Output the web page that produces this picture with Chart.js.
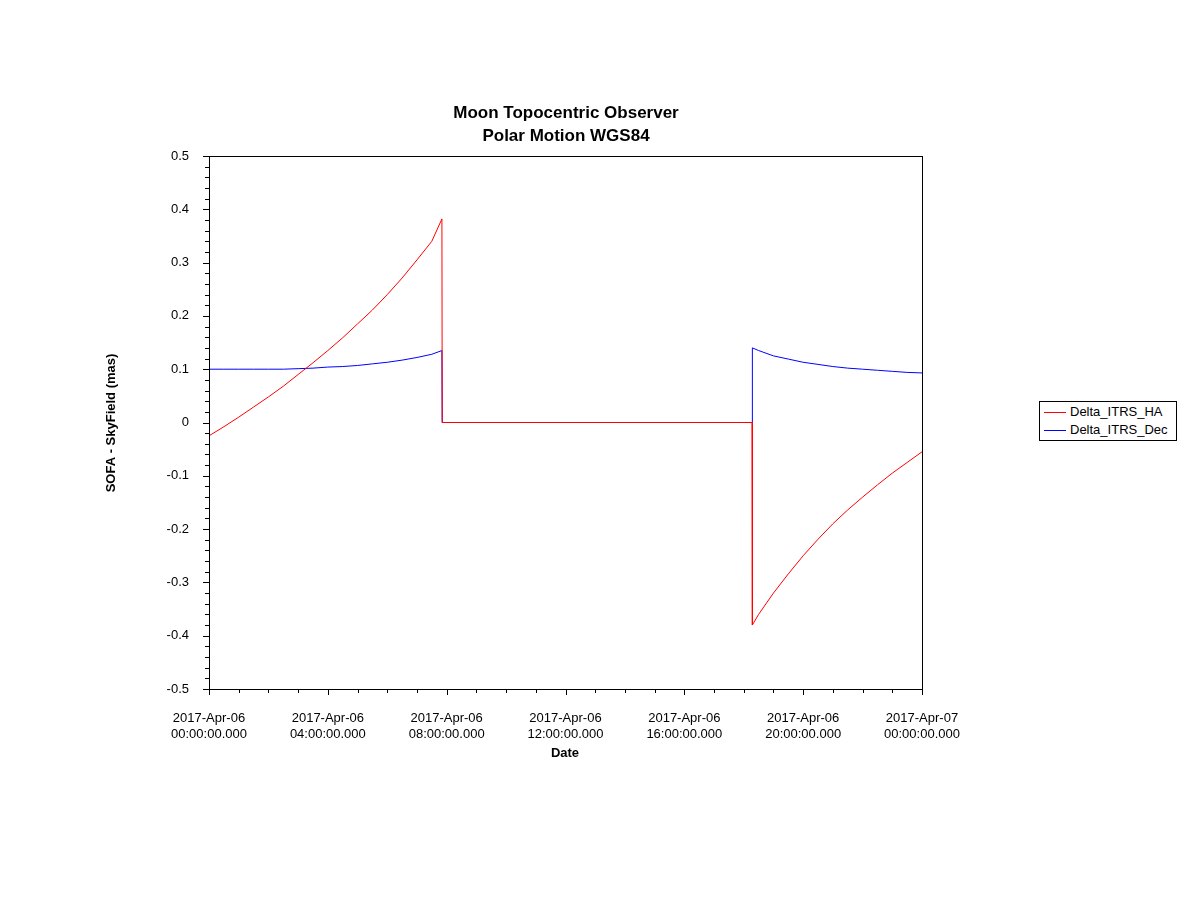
<!DOCTYPE html>
<html><head><meta charset="utf-8">
<script src="https://cdn.jsdelivr.net/npm/chart.js@4"></script>
<style>html,body{margin:0;padding:0;background:#fff}#w{position:relative;width:1198px;height:898px}
#lg{position:absolute;left:1039px;top:401px;width:138px;height:40px;border:1px solid #000;box-sizing:border-box;font:13px "Liberation Sans",Arial,sans-serif;background:#fff}
#lg div{position:absolute;left:4px;height:16px;line-height:16px}#lg span{display:inline-block;width:22px;height:1px;vertical-align:middle;margin-right:4px}</style>
</head><body><div id="w"><canvas id="c" width="1198" height="898"></canvas>
<div id="lg"><div style="top:2px"><span style="background:#f00"></span>Delta_ITRS_HA</div><div style="top:20px"><span style="background:#00f"></span>Delta_ITRS_Dec</div></div></div>
<script>
const hours = [0,0.5,1,1.5,2,2.5,3,3.5,4,4.5,5,5.5,6,6.5,7,7.5,7.84,7.85,12,18.28,18.29,18.5,19,19.5,20,20.5,21,21.5,22,22.5,23,23.5,24];
const deltaHA = [-0.025,-0.008,0.01,0.029,0.048,0.068,0.09,0.112,0.135,0.159,0.185,0.211,0.24,0.271,0.305,0.34,0.382,0,0,0,-0.38,-0.36,-0.32,-0.284,-0.25,-0.219,-0.19,-0.164,-0.14,-0.117,-0.095,-0.075,-0.055];
const deltaDec = [0.1,0.1,0.1,0.1,0.1,0.1,0.101,0.102,0.104,0.105,0.107,0.11,0.113,0.117,0.122,0.128,0.135,0,0,0,0.14,0.135,0.125,0.119,0.113,0.109,0.105,0.102,0.1,0.098,0.096,0.094,0.093];
const xTickLabels = {0:['2017-Apr-06','00:00:00.000'],4:['2017-Apr-06','04:00:00.000'],8:['2017-Apr-06','08:00:00.000'],12:['2017-Apr-06','12:00:00.000'],16:['2017-Apr-06','16:00:00.000'],20:['2017-Apr-06','20:00:00.000'],24:['2017-Apr-07','00:00:00.000']};
const FONT='"Liberation Sans",Arial,sans-serif';
const deco={id:'deco',afterDraw(ch){const c=ch.ctx,a=ch.chartArea,x=ch.scales.x,y=ch.scales.y;c.save();c.strokeStyle='#000';c.lineWidth=1;
c.strokeRect(Math.round(a.left)+0.5,Math.round(a.top)+0.5,Math.round(a.right-a.left),Math.round(a.bottom-a.top));
c.beginPath();for(let h=0;h<=24;h++){const px=Math.round(x.getPixelForValue(h))+0.5;c.moveTo(px,a.bottom);c.lineTo(px,a.bottom+(h%4?4:6));}
for(let i=-25;i<=25;i++){const py=Math.round(y.getPixelForValue(i*0.02))+0.5;c.moveTo(a.left,py);c.lineTo(a.left-(i%5?4:6),py);}c.stroke();
c.fillStyle='#000';c.textAlign='center';c.font='bold 17px '+FONT;c.fillText('Moon Topocentric Observer',566,118);c.fillText('Polar Motion WGS84',566,141);
c.font='bold 13px '+FONT;c.fillText('Date',565,757);c.translate(115,423);c.rotate(-Math.PI/2);c.fillText('SOFA - SkyField (mas)',0,0);c.restore();}};
new Chart(document.getElementById('c'),{type:'line',data:{datasets:[
{label:'Delta_ITRS_HA',data:hours.map((h,i)=>({x:h,y:deltaHA[i]})),borderColor:'#f00',borderWidth:1,pointRadius:0,tension:0},
{label:'Delta_ITRS_Dec',data:hours.map((h,i)=>({x:h,y:deltaDec[i]})),borderColor:'#00f',borderWidth:1,pointRadius:0,tension:0}]},
options:{responsive:false,animation:false,layout:{padding:{top:156,right:276,left:0,bottom:0}},plugins:{legend:{display:false},tooltip:{enabled:false}},
scales:{x:{type:'linear',min:0,max:24,afterFit(s){s.height=209},grid:{display:false},border:{display:false},
ticks:{stepSize:4,autoSkip:false,maxRotation:0,padding:14,color:'#000',font:{family:FONT,size:13},callback:v=>xTickLabels[v]||''}},
y:{min:-0.5,max:0.5,afterFit(s){s.width=209},grid:{display:false},border:{display:false},
ticks:{stepSize:0.1,padding:12,color:'#000',font:{family:FONT,size:13},callback:v=>{const r=Math.round(v*10)/10;return r===0?'0':String(r)}}}}},
plugins:[deco]});
</script></body></html>
